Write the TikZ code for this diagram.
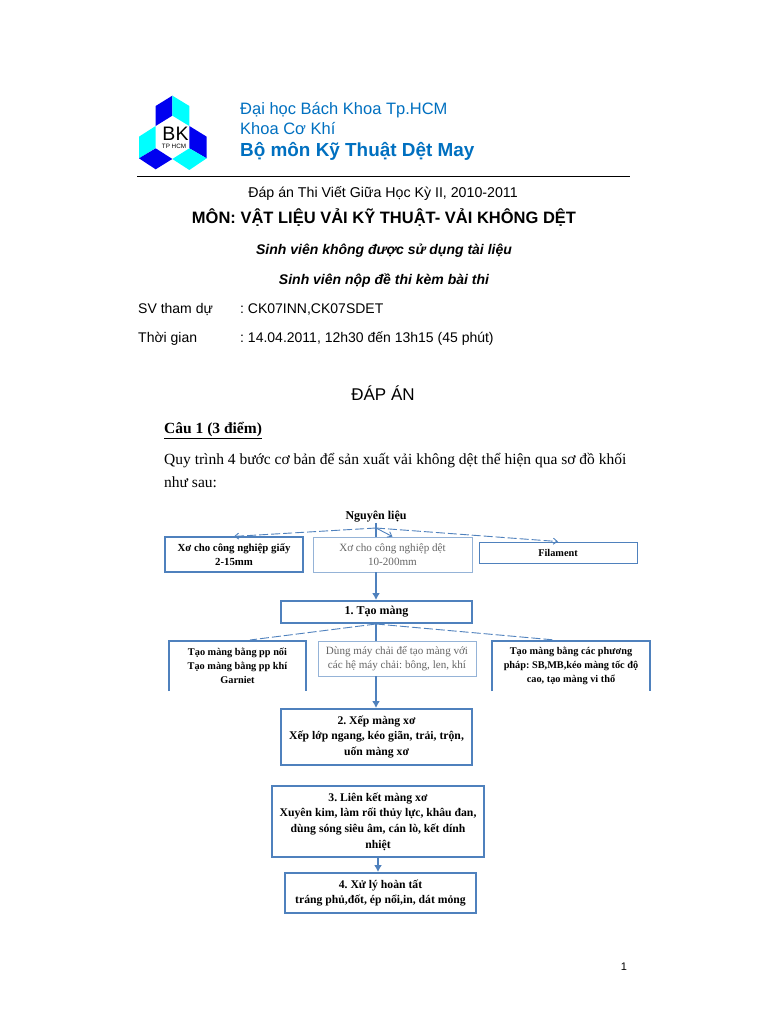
\documentclass[tikz,border=0pt]{standalone}
\usepackage{fontspec}
\setmainfont{Liberation Serif}
\newfontfamily\arl{Liberation Sans}
\usetikzlibrary{arrows.meta}
\definecolor{bklue}{RGB}{0,112,192}
\definecolor{lnblue}{RGB}{79,129,189}
\definecolor{cyn}{RGB}{0,255,255}
\definecolor{dkb}{RGB}{0,0,240}
\tikzset{
  hd/.style={font=\arl\color{bklue}\fontsize{16.5}{20}\selectfont,anchor=base west,inner sep=0pt},
  hdb/.style={font=\arl\bfseries\color{bklue}\fontsize{18.9}{22}\selectfont,anchor=base west,inner sep=0pt},
  sans/.style={font=\arl\fontsize{14}{16}\selectfont,anchor=base west,inner sep=0pt},
  sanc/.style={font=\arl\fontsize{14.2}{16}\selectfont,anchor=base,inner sep=0pt},
  sanbi/.style={font=\arl\bfseries\itshape\fontsize{14}{16}\selectfont,anchor=base,inner sep=0pt},
  body/.style={font=\fontsize{15.5}{18}\selectfont,anchor=base west,inner sep=0pt},
  bx/.style={font=\bfseries\fontsize{10.8}{14}\selectfont,align=center,inner sep=0pt,fill=white,draw=lnblue},
  fbx/.style={bx,line width=1.2pt},
  lbx/.style={bx,font=\fontsize{11.1}{14}\selectfont,text=black!60,draw=lnblue!60,line width=.8pt},
  tbx/.style={bx,font=\bfseries\fontsize{12}{14}\selectfont,line width=2.4pt},
  bigbx/.style={bx,font=\bfseries\fontsize{11.7}{15.7}\selectfont,line width=2pt},
  opn/.style={draw=lnblue,line width=1.2pt},
  lab/.style={font=\bfseries\fontsize{10.3}{14}\selectfont,align=center,inner sep=0pt},
  dsh/.style={draw=lnblue,line width=.9pt,dash pattern=on 9pt off 3pt},
  sol/.style={draw=lnblue,line width=1.7pt,-{Latex[length=7pt,width=8pt]}},
  tip/.style={-{Straight Barb[length=4pt,width=6pt]}}
}
\frenchspacing
\begin{document}
\frenchspacing
\begin{tikzpicture}[x=1pt,y=-1pt]
\useasboundingbox[fill=white] (0,0) rectangle (768,1024);
% logo
\begin{scope}[shift={(130,90)},x=.3333pt,y=-.3333pt]
\fill[dkb] (127,17)--(77,48)--(77,108)--(127,77)--cycle;
\fill[cyn] (127,17)--(178,48)--(178,108)--(127,77)--cycle;
\fill[cyn] (77,108)--(27,140)--(27,205)--(77,174)--cycle;
\fill[dkb] (27,205)--(77,175)--(127,207)--(77,238)--cycle;
\fill[dkb] (178,108)--(230,140)--(230,205)--(178,175)--cycle;
\fill[cyn] (230,205)--(178,175)--(127,207)--(178,240)--cycle;
\end{scope}
\node[font=\arl\fontsize{19.5}{20}\selectfont,inner sep=0pt,anchor=base] (bk) at (175.5,140.5) {BK};
\node[font=\arl\fontsize{6.3}{7}\selectfont,inner sep=0pt,anchor=base] (tphcm) at (174,149) {TP HCM};
\node[hd] (h1) at (240,115) {Đại học Bách Khoa Tp.HCM};
\node[hd] (h2) at (240,135) {Khoa Cơ Khí};
\node[hdb] (h3) at (240,157) {Bộ môn Kỹ Thuật Dệt May};
\coordinate (rl) at (137,176.5); \coordinate (rr) at (630,176.5);
\draw[line width=.9pt] (rl) -- (rr);
\node[sanc] (t1) at (383,198) {Đáp án Thi Viết Giữa Học Kỳ II, 2010-2011};
\node[font=\arl\bfseries\fontsize{16.5}{18}\selectfont,anchor=base,inner sep=0pt] (t2) at (384,223) {MÔN: VẬT LIỆU VẢI KỸ THUẬT- VẢI KHÔNG DỆT};
\node[sanbi] (t3) at (384,254) {Sinh viên không được sử dụng tài liệu};
\node[sanbi] (t4) at (384,284) {Sinh viên nộp đề thi kèm bài thi};
\node[sans] (t5) at (138,313) {SV tham dự};
\node[sans] (t6) at (240,313) {: CK07INN,CK07SDET};
\node[sans] (t7) at (138,342) {Thời gian};
\node[sans] (t8) at (240,342) {: 14.04.2011, 12h30 đến 13h15 (45 phút)};
\node[font=\arl\fontsize{17}{18}\selectfont,anchor=base,inner sep=0pt] (t9) at (383,400) {ĐÁP ÁN};
\node[body,font=\bfseries\fontsize{15.5}{18}\selectfont] (c1) at (164,433) {\underline{Câu 1 (3 điểm)}};
\node[body] (p1) at (164,464) {Quy trình 4 bước cơ bản để sản xuất vải không dệt thể hiện qua sơ đồ khối};
\node[body] (p2) at (164,487) {như sau:};
% flow
\node[lab,font=\bfseries\fontsize{12}{14}\selectfont] (nl) at (376,517) {Nguyên liệu};
\coordinate (j1) at (376,528);
\node[fbx,minimum width=138pt,minimum height=35pt] (a1) at (234,554.5) {Xơ cho công nghiệp giấy\\2-15mm};
\node[lbx,minimum width=159pt,minimum height=35pt] (a2) at (392.5,554.5) {Xơ cho công nghiệp dệt\\10-200mm};
\node[fbx,line width=.9pt,minimum width=158pt,minimum height=21pt,font=\bfseries\fontsize{10.3}{14}\selectfont] (a3) at (558,552.5) {Filament};
\draw[dsh,tip] (j1) -- (a1.north);
\draw[draw=lnblue,line width=.9pt,tip] (j1) -- (a2.north);
\draw[dsh,tip] (j1) -- (a3.north);
\draw[draw=lnblue,line width=1.2pt] (nl.south) -- (j1);
\draw[sol] (j1 |- a2.south) -- (j1 |- 0,600);
\draw[draw=lnblue,line width=1.7pt] (j1) -- (j1 |- a2.north);
\node[tbx,minimum width=191pt,minimum height=22pt] (s1) at (376.5,612) {1. Tạo màng};
% row 2
\coordinate (bl1) at (169,691); \coordinate (tl1) at (169,641); \coordinate (tr1) at (306,641); \coordinate (br1) at (306,691);
\coordinate (bl3) at (492,691); \coordinate (tl3) at (492,641); \coordinate (tr3) at (650,641); \coordinate (br3) at (650,691);
\coordinate (j2) at (376,624);
\coordinate (t1m) at (250,640); \coordinate (t3m) at (555,640);
\node[lab] (b1) at (237.5,665.5) {Tạo màng bằng pp nối\\Tạo màng bằng pp khí\\Garniet};
\node[lab] (b3) at (571,665.5) {Tạo màng bằng các phương\\pháp: SB,MB,kéo màng tốc độ\\cao, tạo màng vi thổ};
\draw[opn] (bl1) -- (tl1) -- (tr1) -- (br1);
\draw[opn] (bl3) -- (tl3) -- (tr3) -- (br3);
\draw[dsh] (j2) -- (t1m);
\draw[dsh] (j2) -- (t3m);
\draw[draw=lnblue,line width=1.7pt] (j2) -- (j2 |- 0,641);
\node[lbx,minimum width=158pt,minimum height=35pt] (b2) at (397,658.5) {Dùng máy chải để tạo màng với\\các hệ máy chải: bông, len, khí};
\draw[sol] (j2 |- b2.south) -- (j2 |- 0,708);
\node[bigbx,minimum width=191pt,minimum height=56pt] (s2) at (376.5,737) {2. Xếp màng xơ\\Xếp lớp ngang, kéo giãn, trải, trộn,\\uốn màng xơ};
\node[bigbx,minimum width=212pt,minimum height=71pt] (s3) at (378,821.5) {3. Liên kết màng xơ\\Xuyên kim, làm rối thủy lực, khâu đan,\\dùng sóng siêu âm, cán lò, kết dính\\nhiệt};
\node[bigbx,minimum width=191pt,minimum height=40pt] (s4) at (380.5,893) {4. Xử lý hoàn tất\\tráng phủ,đốt, ép nổi,in, dát mỏng};
\draw[sol] (s3.south) -- (s3.south |- s4.north);
\node[font=\arl\fontsize{11}{12}\selectfont,anchor=base,inner sep=0pt] (pg) at (624,970) {1};
\end{tikzpicture}
\end{document}
